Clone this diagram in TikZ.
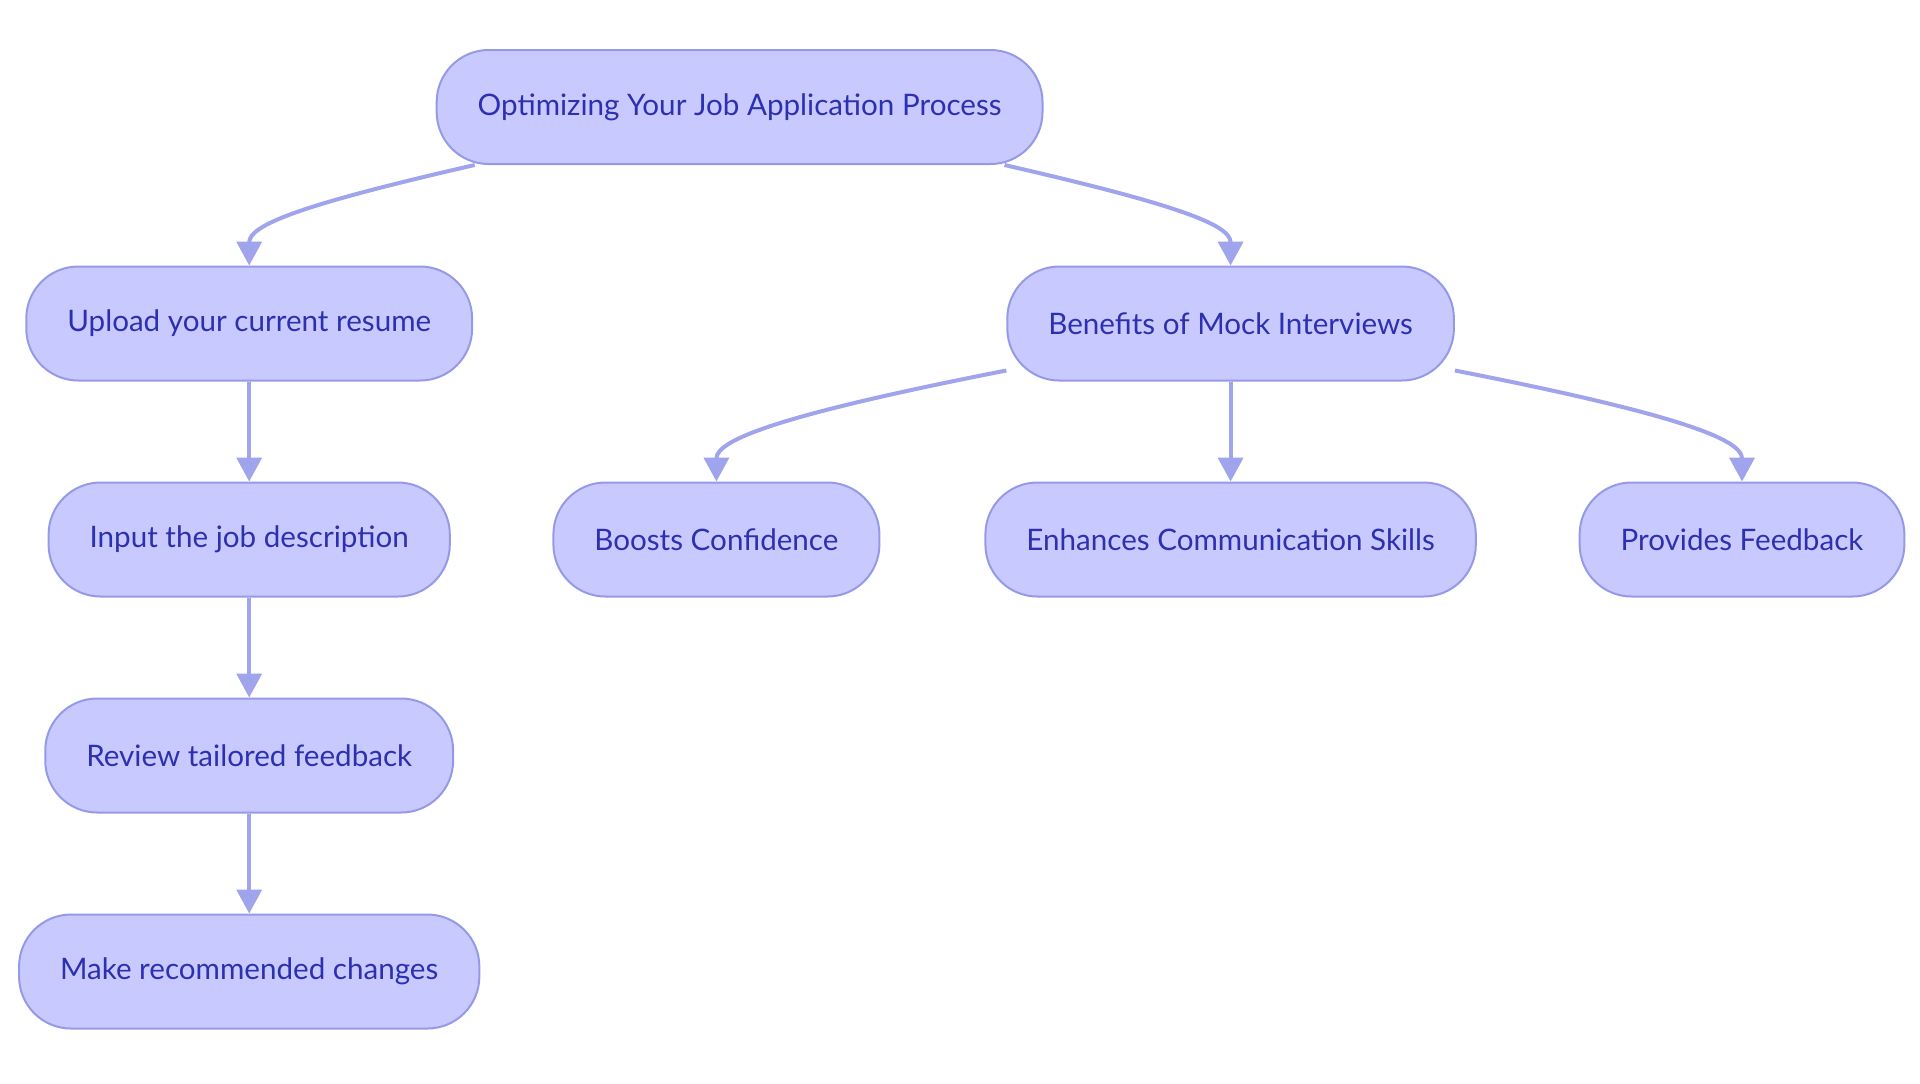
\documentclass[tikz,border=0pt]{standalone}
\usepackage{fontspec}
\setmainfont{Lato}
\usetikzlibrary{arrows.meta}

\definecolor{boxfill}{RGB}{200,202,255}
\definecolor{boxline}{RGB}{150,154,230}
\definecolor{boxtext}{RGB}{45,48,175}
\definecolor{linkcol}{RGB}{160,164,236}

\tikzset{
  stadium/.style={draw=boxline, fill=boxfill, line width=1pt, rounded corners=26pt,
    minimum height=57pt, inner xsep=20.5pt, text=boxtext, font=\fontsize{14.8}{17}\selectfont},
  link/.style={draw=linkcol, line width=2pt, -{Triangle[length=12pt,width=12.5pt]}}
}

\begin{document}
\begin{tikzpicture}[x=0.5pt, y=-0.5pt]
  \useasboundingbox (0,0) rectangle (1920,1083);

  % Nodi
  \node[stadium] (root) at (739.6,107) {Optimizing Your Job Application Process};
  \node[stadium] (upload) at (249.2,323.5) {Upload your current resume};
  \node[stadium] (input) at (249.2,539.5) {Input the job description};
  \node[stadium] (review) at (249.2,755.5) {Review tailored feedback};
  \node[stadium] (make) at (249.2,971.5) {Make recommended changes};
  \node[stadium] (benefits) at (1230.6,323.5) {Benefits of Mock Interviews};
  \node[stadium] (boosts) at (716.4,539.5) {Boosts Confidence};
  \node[stadium] (enhances) at (1230.6,539.5) {Enhances Communication Skills};
  \node[stadium] (provides) at (1742,539.5) {Provides Feedback};

  % Collegamenti
  \draw[link] ([xshift=19.5pt]root.south west) .. controls (300,205) and (249.2,225) .. (upload.north);
  \draw[link] ([xshift=-19.5pt]root.south east) .. controls (1179,205) and (1230.6,225) .. (benefits.north);
  \draw[link] (upload) -- (input);
  \draw[link] (input) -- (review);
  \draw[link] (review) -- (make);
  \draw[link] ([yshift=5.5pt]benefits.south west) .. controls (779,415) and (716.4,440) .. (boosts.north);
  \draw[link] (benefits) -- (enhances);
  \draw[link] ([yshift=5.5pt]benefits.south east) .. controls (1682,415) and (1742,440) .. (provides.north);
\end{tikzpicture}
\end{document}
